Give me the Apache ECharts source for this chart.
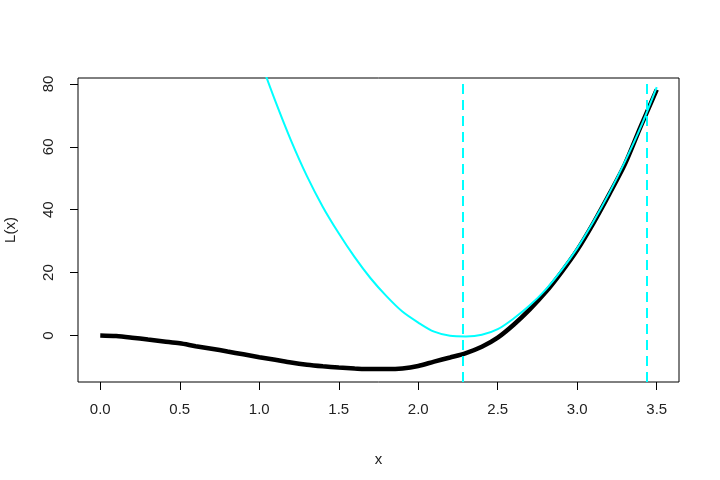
<!DOCTYPE html>
<html>
<head>
<meta charset="utf-8">
<script src="https://cdn.jsdelivr.net/npm/echarts@6/dist/echarts.min.js"></script>
<style>
  html, body { margin: 0; padding: 0; background: #fff; }
  #chart { width: 720px; height: 480px; }
</style>
</head>
<body>
<div id="chart"></div>
<script>
// values
var xs = [0.0, 0.1, 0.2, 0.3, 0.4, 0.5, 0.6, 0.7, 0.8, 0.9,
  1.0, 1.1, 1.2, 1.3, 1.4, 1.5, 1.6, 1.7, 1.8, 1.9,
  2.0, 2.1, 2.2, 2.3, 2.4, 2.5, 2.6, 2.7, 2.8, 2.9,
  3.0, 3.1, 3.2, 3.3, 3.4, 3.5];
var lValues = [0, -0.2, -0.7, -1.3, -1.9, -2.5, -3.4, -4.2, -5.1, -6.0,
  -6.9, -7.7, -8.6, -9.3, -9.8, -10.2, -10.5, -10.7, -10.7, -10.5,
  -9.7, -8.3, -7.0, -5.6, -3.6, -0.7, 3.4, 8.2, 13.7, 20.1,
  27.2, 35.6, 44.8, 54.5, 66.6, 78.2];

// approximation curve, starts at x = 1.0
var approxXs = [1.0, 1.1, 1.2, 1.3, 1.4, 1.5, 1.6, 1.7, 1.8, 1.9,
  2.0, 2.1, 2.2, 2.3, 2.4, 2.5, 2.6, 2.7, 2.8, 2.9,
  3.0, 3.1, 3.2, 3.3, 3.4, 3.5];
var approxValues = [88.4, 74.7, 62.0, 50.7, 40.9, 32.5, 24.9, 18.2, 12.5, 7.6,
  4.1, 1.2, -0.1, -0.3, 0.2, 2.0, 5.4, 9.5, 14.5, 20.7,
  27.8, 36.1, 45.2, 55.3, 66.4, 79.0];

var cutoffs = [2.278, 3.441];

var xTicks = [0, 0.5, 1, 1.5, 2, 2.5, 3, 3.5];
var yTicks = [0, 20, 40, 60, 80];

function pairs(a, b) {
  return a.map(function (v, i) { return [v, b[i]]; });
}

var myChart = echarts.init(document.getElementById('chart'));
var font = 'Liberation Sans, Arial, sans-serif';
var option = {
  animation: false,
  grid: {
    left: 78,
    right: 41,
    top: 78,
    bottom: 98,
    containLabel: false,
    outerBoundsMode: 'none',
    show: true,
    borderColor: '#000',
    borderWidth: 1
  },
  xAxis: {
    type: 'value',
    min: -0.14,
    max: 3.64,
    name: 'x',
    nameLocation: 'middle',
    nameGap: 70,
    nameTextStyle: { color: '#222', fontSize: 15, fontFamily: font },
    splitLine: { show: false },
    axisLine: { show: false, onZero: false },
    axisTick: {
      show: true,
      length: 8,
      customValues: xTicks,
      lineStyle: { color: '#000' }
    },
    axisLabel: {
      customValues: xTicks,
      margin: 20,
      color: '#222',
      fontSize: 15,
      fontFamily: font,
      formatter: function (v) { return v.toFixed(1); }
    }
  },
  yAxis: {
    type: 'value',
    min: -14.8,
    max: 81.9,
    name: 'L(x)',
    nameLocation: 'middle',
    nameGap: 60,
    nameTextStyle: { color: '#222', fontSize: 15, fontFamily: font },
    splitLine: { show: false },
    axisLine: { show: false, onZero: false },
    axisTick: {
      show: true,
      length: 8,
      customValues: yTicks,
      lineStyle: { color: '#000' }
    },
    axisLabel: {
      customValues: yTicks,
      rotate: 90,
      margin: 22,
      color: '#222',
      fontSize: 15,
      fontFamily: font
    }
  },
  series: [
    {
      name: 'L',
      type: 'line',
      data: pairs(xs, lValues),
      smooth: 0.3,
      showSymbol: false,
      lineStyle: { color: '#000', width: 4.5 },
      z: 2
    },
    {
      name: 'approx',
      type: 'line',
      data: pairs(approxXs, approxValues),
      smooth: 0.3,
      showSymbol: false,
      clip: true,
      lineStyle: { color: '#00ffff', width: 2 },
      z: 3,
      markLine: {
        silent: true,
        symbol: ['none', 'none'],
        label: { show: false },
        lineStyle: { color: '#00ffff', width: 2, type: [10, 6] },
        data: cutoffs.map(function (c) { return { xAxis: c }; })
      }
    }
  ]
};

option && myChart.setOption(option);
</script>
</body>
</html>
